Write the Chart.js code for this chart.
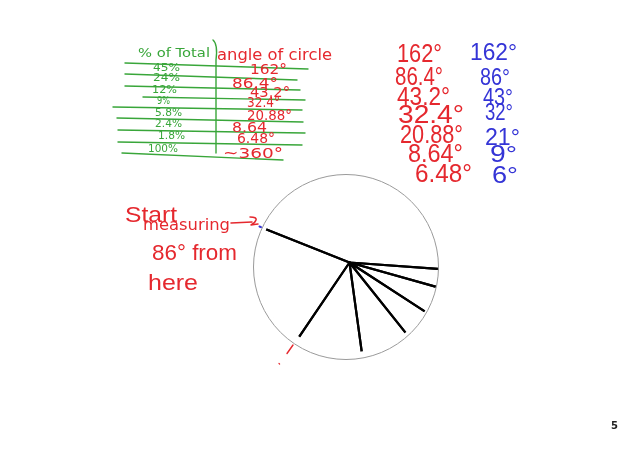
<!DOCTYPE html>
<html>
<head>
<meta charset="utf-8">
<script src="https://cdn.jsdelivr.net/npm/chart.js@4.4.1/dist/chart.umd.min.js"></script>
<style>
  html, body { margin: 0; padding: 0; background: #fff; }
  #wrap { position: relative; width: 638px; height: 451px; overflow: hidden; background: #fff; }
  #c { position: absolute; left: 0; top: 0; width: 638px; height: 451px; }
  #ink { position: absolute; left: 0; top: 0; pointer-events: none; }
  #ring { position: absolute; left: 252.5px; top: 173.5px; width: 186px; height: 186px;
          border: 1.3px solid #9a9a9a; border-radius: 50%; box-sizing: border-box; pointer-events: none; }
  text { font-family: "DejaVu Sans", "Liberation Sans", sans-serif; }
  text.big { font-family: "Liberation Sans", "DejaVu Sans", sans-serif; }
</style>
</head>
<body>
<div id="wrap">
  <canvas id="c" width="638" height="451"></canvas>
  <div id="ring"></div>
  <svg id="ink" width="638" height="451" xmlns="http://www.w3.org/2000/svg"></svg>
</div>
<script>
// ---- data ----
const categories   = ['45%', '1.8%', '2.4%', '5.8%', '9%', '12%', '24%'];
const drawnAngles  = [162.4, 11.6, 17.3, 18.4, 30.8, 41.9, 77.6];   // slice angles as drawn, clockwise
const startAngle   = 201.7;                                          // first line, degrees clockwise from 3 o'clock
const percentLabels = ['45%', '24%', '12%', '9%', '5.8%', '2.4%', '1.8%', '100%'];
const angleLabels   = ['162°', '86.4°', '43.2°', '32.4°', '20.88°', '8.64', '6.48°', '~360°'];
const exactAngles   = ['162°', '86.4°', '43.2°', '32.4°', '20.88°', '8.64°', '6.48°'];
const roundedAngles = ['162°', '86°', '43°', '32°', '21°', '9°', '6°'];

// hide the outer arc of the pie so only the radial lines remain
const coverArc = {
  id: 'coverArc',
  afterDatasetsDraw(chart) {
    const a = chart.getDatasetMeta(0).data[0];
    if (!a) return;
    const ctx = chart.ctx;
    ctx.save();
    ctx.beginPath();
    ctx.arc(a.x, a.y, a.outerRadius, 0, Math.PI * 2);
    ctx.strokeStyle = '#ffffff';
    ctx.lineWidth = 4.5;
    ctx.stroke();
    ctx.restore();
  }
};

new Chart(document.getElementById('c'), {
  type: 'pie',
  data: {
    labels: categories,
    datasets: [{
      data: drawnAngles,
      backgroundColor: 'rgba(0,0,0,0)',
      borderColor: '#000000',
      borderWidth: 2.2,
      borderJoinStyle: 'round',
      radius: 92
    }]
  },
  options: {
    responsive: false,
    maintainAspectRatio: false,
    devicePixelRatio: 1,
    animation: false,
    events: [],
    rotation: startAngle + 90,
    layout: { padding: { left: 61, top: 74, right: 0, bottom: 0 } },
    plugins: { legend: { display: false }, tooltip: { enabled: false } }
  },
  plugins: [coverArc]
});

// ---- handwritten notes ----
const svg = document.getElementById('ink');
const NS = 'http://www.w3.org/2000/svg';
const GREEN = '#39a63a', RED = '#e5282e', BLUE = '#3434d6';
function txt(s, x, y, size, color, len, weight) {
  const t = document.createElementNS(NS, 'text');
  t.setAttribute('x', x); t.setAttribute('y', y);
  t.setAttribute('font-size', size); t.setAttribute('fill', color);
  t.setAttribute('font-weight', weight || 'normal');
  if (size >= 16) t.setAttribute('class', 'big');
  if (len) { t.setAttribute('textLength', len); t.setAttribute('lengthAdjust', 'spacingAndGlyphs'); }
  t.textContent = s; svg.appendChild(t);
}
function line(x1, y1, x2, y2, color, w) {
  const l = document.createElementNS(NS, 'line');
  l.setAttribute('x1', x1); l.setAttribute('y1', y1); l.setAttribute('x2', x2); l.setAttribute('y2', y2);
  l.setAttribute('stroke', color); l.setAttribute('stroke-width', w); l.setAttribute('stroke-linecap', 'round');
  svg.appendChild(l);
}
function path(d, color, w) {
  const p = document.createElementNS(NS, 'path');
  p.setAttribute('d', d); p.setAttribute('fill', 'none'); p.setAttribute('stroke', color);
  p.setAttribute('stroke-width', w); p.setAttribute('stroke-linecap', 'round'); p.setAttribute('stroke-linejoin', 'round');
  svg.appendChild(p);
}

// table rules
const rules = [[125,63,308,69],[125,74,297,80],[125,86,300,90],[143,97,305,100],[113,107,302,110],
               [117,118,303,122],[118,130,305,133],[118,142,302,145],[122,153,283,160]];
rules.forEach(r => line(r[0], r[1], r[2], r[3], GREEN, 1.4));
path('M213,40 Q218,44 216,60 L216,153', GREEN, 1.4);

// headers
txt('% of Total', 138, 57, 13, GREEN, 72);
txt('angle of circle', 217, 60, 15, RED, 115);

// table rows
const pctX  = [153, 153, 152, 157, 155, 155, 158, 148];
const pctW  = [27, 27, 25, 13, 27, 27, 27, 30];
const rowY  = [71, 81, 93, 104, 116, 127, 139, 152];
percentLabels.forEach((s, i) => txt(s, pctX[i], rowY[i], 11, GREEN, pctW[i]));
const angX = [250, 232, 250, 247, 247, 232, 237, 223];
const angW = [37, 46, 40, 33, 45, 35, 38, 60];
const angY = [74, 88, 97, 107, 120, 132, 143, 158];
angleLabels.forEach((s, i) => txt(s, angX[i], angY[i], 14, RED, angW[i]));

// exact angle column (red)
const exX = [397, 395, 397, 398, 400, 408, 415];
const exW = [45, 48, 53, 66, 63, 55, 57];
const exY = [62, 85, 105, 123, 143, 162, 182];
exactAngles.forEach((s, i) => txt(s, exX[i], exY[i], 25, RED, exW[i]));

// rounded angle column (blue)
const rdX = [470, 480, 483, 485, 485, 490, 492];
const rdW = [47, 30, 30, 28, 35, 27, 26];
const rdY = [60, 85, 105, 120, 145, 162, 183];
roundedAngles.forEach((s, i) => txt(s, rdX[i], rdY[i], 24, BLUE, rdW[i]));

// annotation
txt('Start', 125, 222, 22, RED, 52);
txt('measuring', 143, 230, 15, RED, 87);
txt('86° from', 152, 260, 22, RED, 85);
txt('here', 148, 290, 22, RED, 50);
path('M231,223 L252,222', RED, 1.5);
path('M250,217 Q257,217 256,220 Q255,223 251,225 L258,224', RED, 1.5);
line(259.5, 226.5, 261, 227.2, BLUE, 2);
// overshoot of the lower-left line
line(293, 345, 287, 353.5, RED, 1.4);
line(279, 363.5, 279.6, 364, RED, 1.2);

// page number
txt('5', 611, 429, 10, '#222', null, 'bold');
</script>
</body>
</html>
